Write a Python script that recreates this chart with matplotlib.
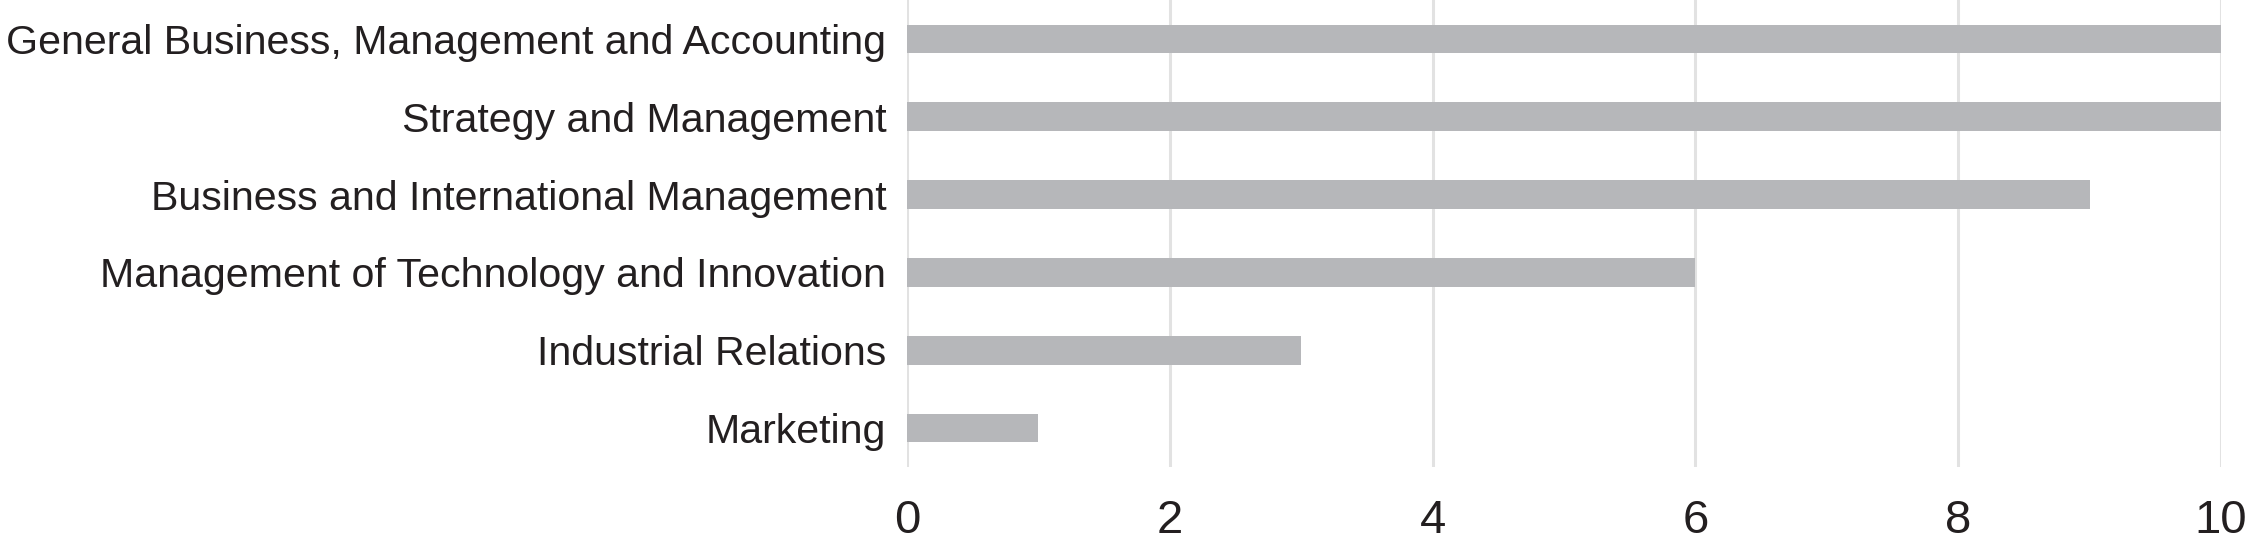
import matplotlib
matplotlib.use("Agg")
import matplotlib.pyplot as plt

categories = [
    "General Business, Management and Accounting",
    "Strategy and Management",
    "Business and International Management",
    "Management of Technology and Innovation",
    "Industrial Relations",
    "Marketing",
]
values = [10, 10, 9, 6, 3, 1]
xticks = [0, 2, 4, 6, 8, 10]

plt.rcParams['font.family'] = ['Liberation Sans', 'DejaVu Sans']

fig = plt.figure(figsize=(22.53, 5.44), dpi=100)
ax = fig.add_axes([907/2253, 77/544, (2221-907)/2253, 467/544])

ypos = list(range(len(categories)))
ax.barh(ypos, values, height=0.37, color='#b6b7ba', zorder=3)
ax.set_ylim(len(categories) - 0.5, -0.5)
ax.set_xlim(0, 10)
ax.set_yticks(ypos)
ax.set_yticklabels(categories, fontsize=29.6, color='#231f20')
ax.set_xticks(xticks)
ax.set_xticklabels([str(t) for t in xticks], fontsize=34, color='#231f20')
ax.tick_params(axis='y', length=0, pad=15)
ax.tick_params(axis='x', length=0, pad=23)
ax.grid(axis='x', color='#e2e2e2', linewidth=2.2, zorder=0)
ax.grid(axis='y', visible=False)
for s in ax.spines.values():
    s.set_visible(False)
for lbl in ax.get_xticklabels():
    lbl.set_clip_on(False)

fig.savefig("out.png", dpi=100)
